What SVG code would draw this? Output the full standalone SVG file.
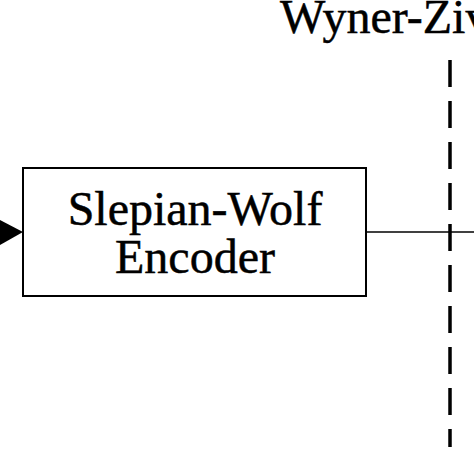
<svg xmlns="http://www.w3.org/2000/svg" width="474" height="474" viewBox="0 0 474 474">
<style>
.t{font-family:"Liberation Serif","Times New Roman",serif;font-size:48px;fill:#000;stroke:#000;stroke-width:0.5}
.box{fill:#fff;stroke:#000;stroke-width:2}
.ln{stroke:#000;stroke-width:1.6;fill:none}
.dash{stroke:#000;stroke-width:3.5;stroke-dasharray:27 14;fill:none}
</style>
<rect width="474" height="474" fill="#fff"/>
<g id="title">
<text class="t" x="280" y="33">Wyner-Ziv</text>
</g>
<g id="connectors">
<line class="ln" x1="366" y1="232" x2="474" y2="232"/>
<polygon points="0,220 23,232 0,245" fill="#000"/>
<line class="dash" x1="450" y1="60" x2="450" y2="447"/>
</g>
<g id="sw-encoder">
<rect class="box" x="23" y="168" width="343" height="128"/>
<text class="t" x="195" y="225" text-anchor="middle">Slepian-Wolf</text>
<text class="t" x="195" y="273" text-anchor="middle">Encoder</text>
</g>
</svg>
